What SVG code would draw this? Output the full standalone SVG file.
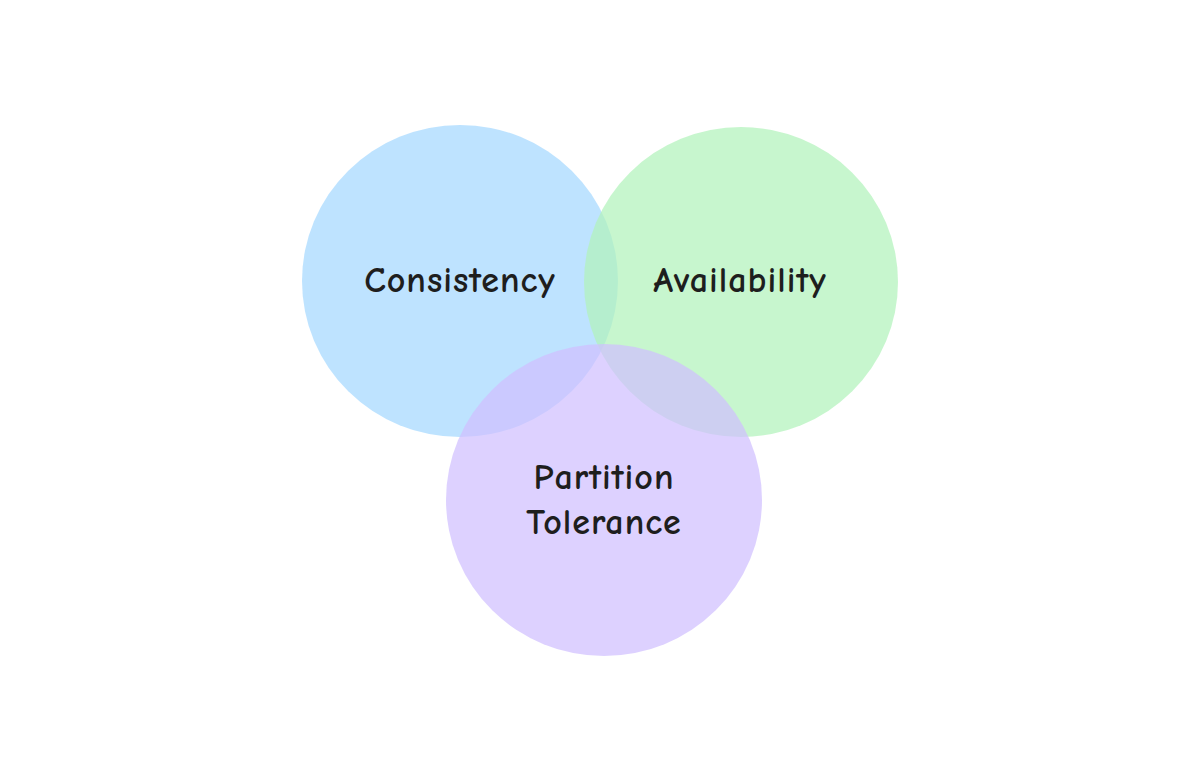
<svg xmlns="http://www.w3.org/2000/svg" width="1200" height="782" viewBox="0 0 1200 782">
<style>
.c{fill-opacity:0.72;stroke:none}
.t{font-family:"Comic Neue","Liberation Sans",sans-serif;font-size:36px;font-weight:bold;letter-spacing:1px;fill:#1e1e1e;text-anchor:middle}
</style>
<rect width="1200" height="782" fill="#fff"/>
<g id="consistency"><ellipse class="c" cx="460" cy="281" rx="158" ry="156" fill="#a5d8ff"/><text class="t" x="460" y="292">Consistency</text></g>
<g id="availability"><ellipse class="c" cx="741" cy="282" rx="157" ry="155" fill="#b2f2bb"/><text class="t" x="740" y="292">Availability</text></g>
<g id="partition"><ellipse class="c" cx="604" cy="500" rx="158" ry="156" fill="#d0bfff"/><text class="t" x="604" y="489">Partition</text><text class="t" x="604" y="534">Tolerance</text></g>
<g id="connectors"/>
</svg>
